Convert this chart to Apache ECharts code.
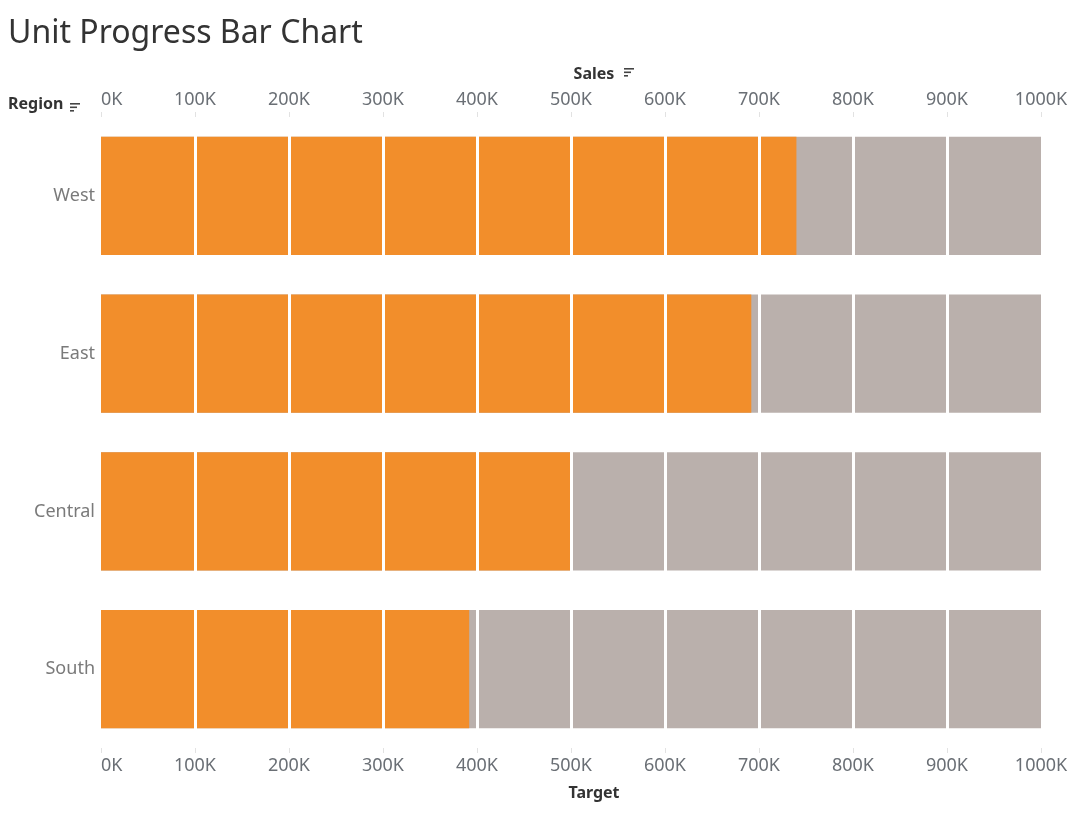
<!DOCTYPE html>
<html>
<head>
<meta charset="utf-8">
<script src="https://cdn.jsdelivr.net/npm/echarts@6/dist/echarts.min.js"></script>
<style>
html,body{margin:0;padding:0;background:#fff;}
#chart{width:1087px;height:814px;}
</style>
</head>
<body>
<div id="chart"></div>
<script>
const regions = ['West', 'East', 'Central', 'South'];
const sales = [739.8, 691.8, 501.2, 391.7];   // in K
const target = [1000, 1000, 1000, 1000];      // in K
const unitLines = [100, 200, 300, 400, 500, 600, 700, 800, 900];

const FONT = '"Noto Sans", sans-serif';
const chart = echarts.init(document.getElementById('chart'));

function sortIcon(x, y) {
  return {
    type: 'group', x: x, y: y, silent: true,
    children: [
      { type: 'rect', shape: { x: 0, y: 0, width: 10, height: 1.6 }, style: { fill: '#444' } },
      { type: 'rect', shape: { x: 0, y: 3.5, width: 7, height: 1.6 }, style: { fill: '#444' } },
      { type: 'rect', shape: { x: 0, y: 7, width: 4, height: 1.6 }, style: { fill: '#444' } }
    ]
  };
}

const axisCommon = {
  type: 'value', min: 0, max: 1000, interval: 100,
  axisLine: { show: false },
  axisTick: { show: true, length: 5, lineStyle: { color: '#e2e2e2', width: 1 } },
  splitLine: { show: false },
  axisLabel: {
    formatter: v => v + 'K',
    color: '#6a6f75', fontFamily: FONT, fontSize: 18,
    alignMinLabel: 'left', showMinLabel: true, showMaxLabel: true
  }
};

chart.setOption({
  animation: false,
  backgroundColor: '#fff',
  title: {
    text: 'Unit Progress Bar Chart', left: 3, top: 13,
    textStyle: { fontFamily: FONT, fontSize: 32, fontWeight: 'normal', color: '#333' }
  },
  grid: { left: 101, right: 46, top: 117, bottom: 66, containLabel: false },
  xAxis: [
    Object.assign({}, axisCommon, { position: 'top', axisLabel: Object.assign({}, axisCommon.axisLabel, { margin: 8 }) }),
    Object.assign({}, axisCommon, { position: 'bottom', axisLabel: Object.assign({}, axisCommon.axisLabel, { margin: 9 }) })
  ],
  yAxis: {
    type: 'category', data: regions, inverse: true,
    axisLine: { show: false }, axisTick: { show: false }, splitLine: { show: false },
    axisLabel: { color: '#7a7a7a', fontFamily: FONT, fontSize: 18, margin: 6 }
  },
  series: [
    {
      name: 'Target', type: 'bar', xAxisIndex: 1, data: target,
      barCategoryGap: '25%', barGap: '-100%', z: 2,
      itemStyle: { color: '#BAB0AC' }
    },
    {
      name: 'Sales', type: 'bar', xAxisIndex: 0, data: sales,
      barCategoryGap: '25%', barGap: '-100%', z: 3,
      itemStyle: { color: '#F28E2B' },
      markLine: {
        silent: true, symbol: 'none', label: { show: false },
        lineStyle: { color: '#fff', width: 3, type: 'solid' },
        data: unitLines.map(v => ({ xAxis: v }))
      }
    }
  ],
  graphic: [
    { type: 'text', left: 8, top: 96, style: { text: 'Region', fontFamily: FONT, fontSize: 16, fontWeight: 'bold', fill: '#333' } },
    sortIcon(70, 103),
    { type: 'text', x: 594, y: 74, style: { text: 'Sales', fontFamily: FONT, fontSize: 16, fontWeight: 'bold', fill: '#333', align: 'center', verticalAlign: 'middle' } },
    sortIcon(624, 68),
    { type: 'text', x: 594, y: 793, style: { text: 'Target', fontFamily: FONT, fontSize: 16, fontWeight: 'bold', fill: '#333', align: 'center', verticalAlign: 'middle' } }
  ]
});
</script>
</body>
</html>
